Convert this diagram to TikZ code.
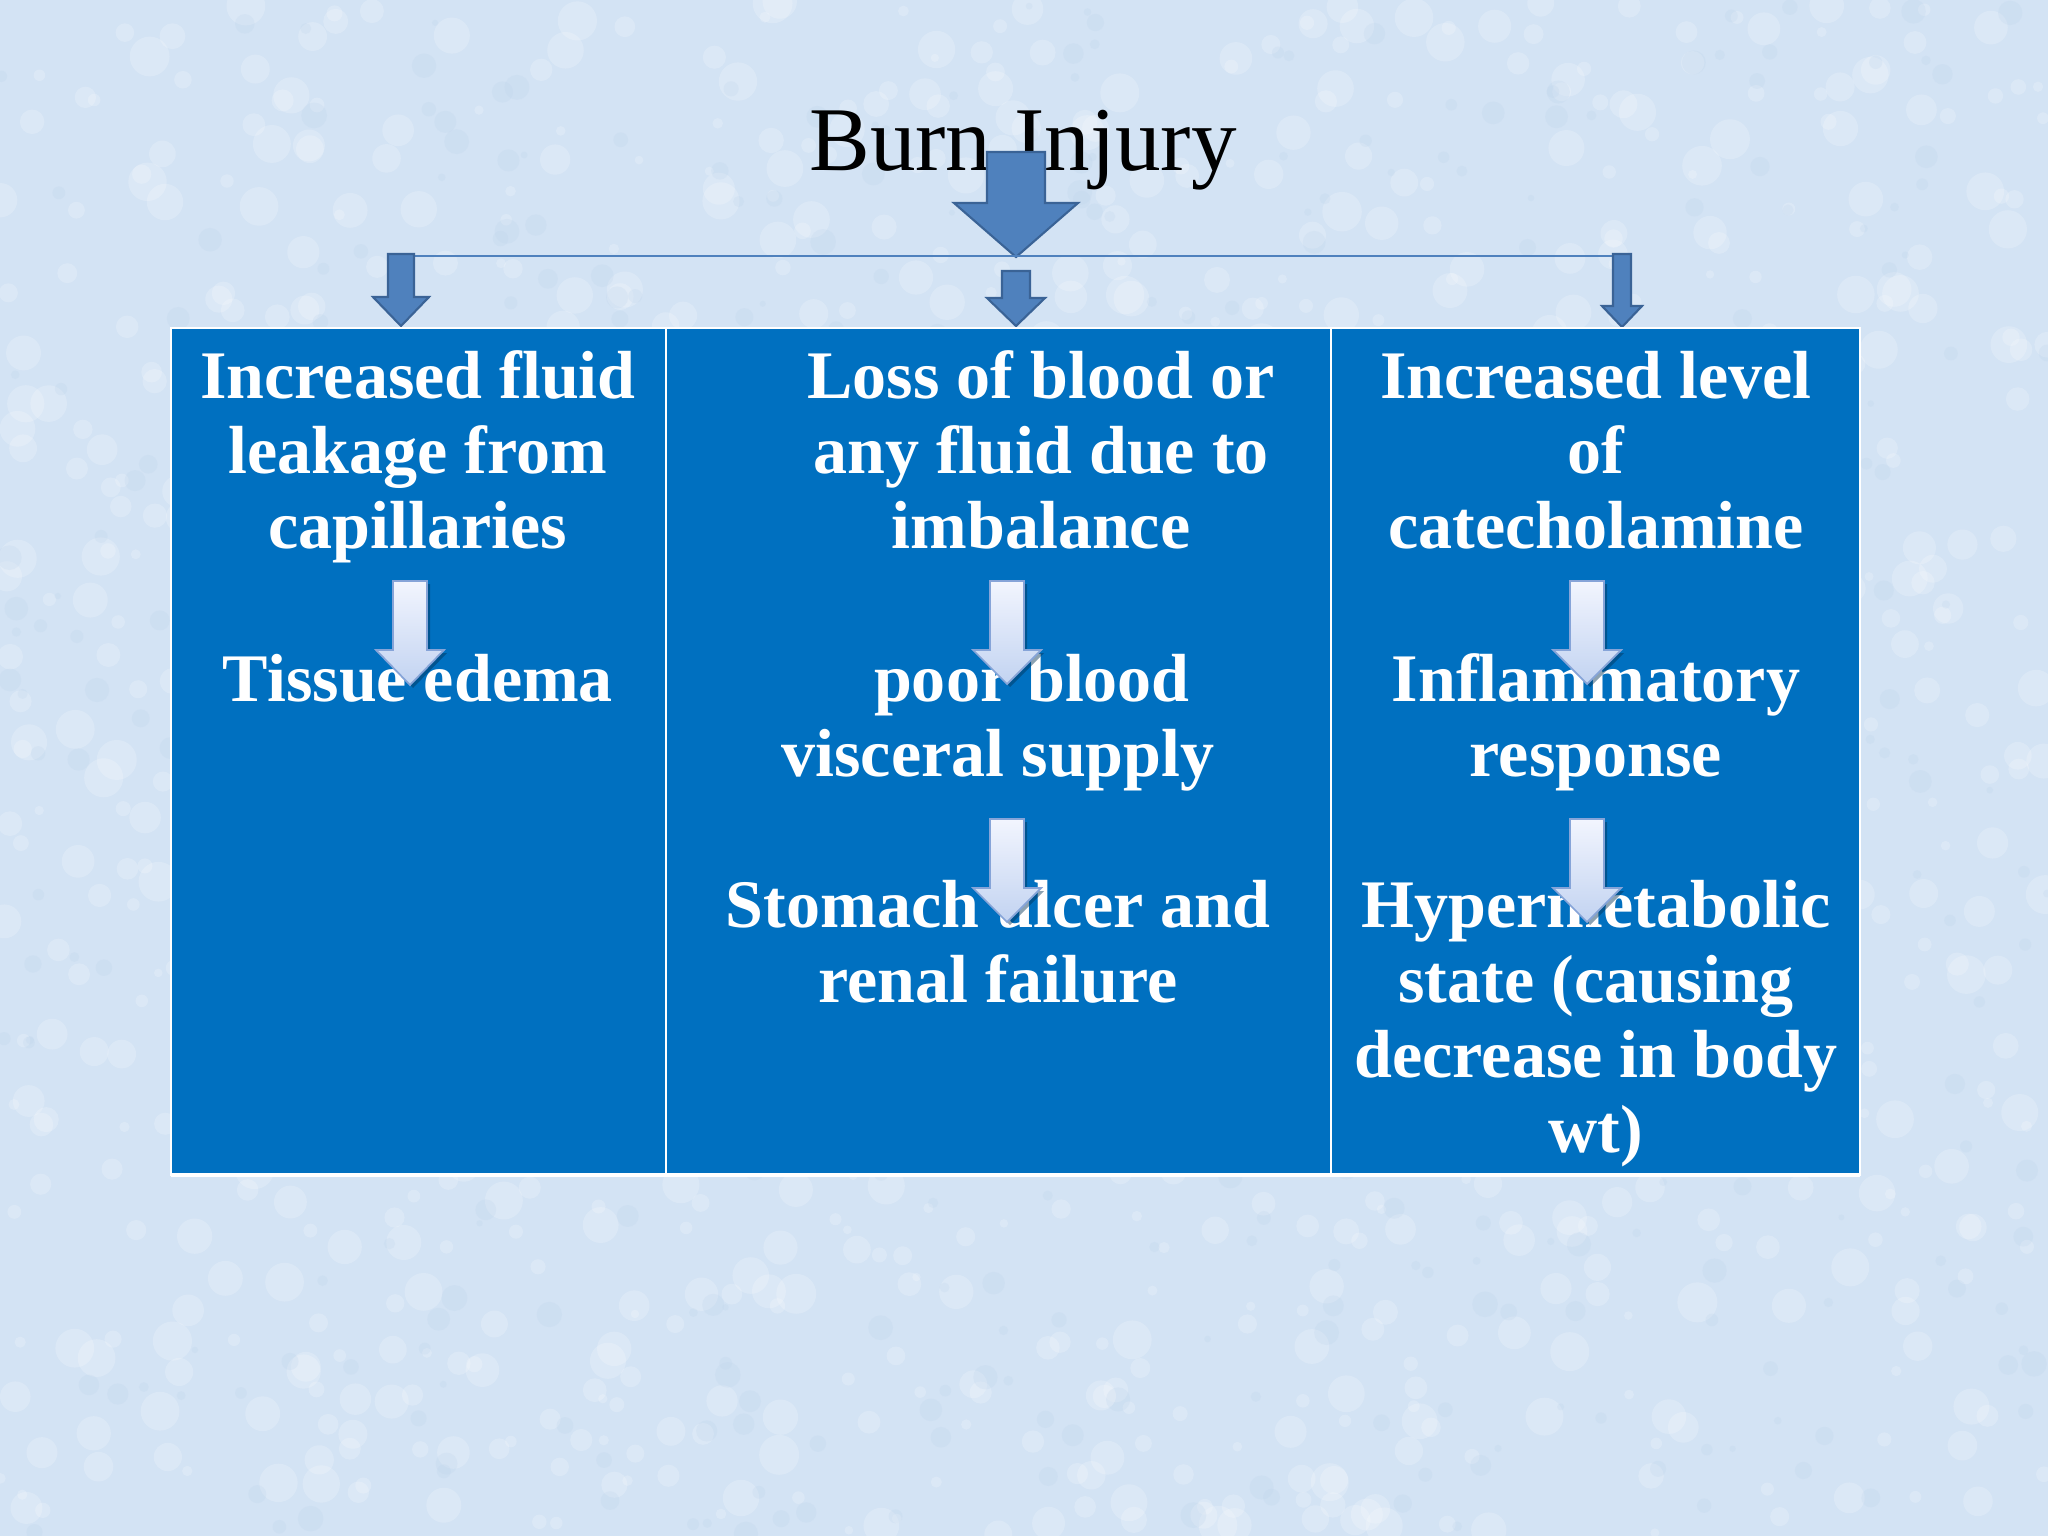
\documentclass[tikz,border=0pt]{standalone}
\usepackage{fontspec}
\setmainfont{Liberation Serif}
\definecolor{bgblue}{HTML}{D3E3F4}
\definecolor{bgdark}{HTML}{BCD2EA}
\definecolor{tblue}{HTML}{0070C0}
\definecolor{abfill}{HTML}{4F81BD}
\definecolor{abdraw}{HTML}{3A6396}
\definecolor{wtop}{HTML}{F2F5FE}
\definecolor{wbot}{HTML}{C2D3F1}
\definecolor{wdraw}{HTML}{86A4D8}
\newcommand\blockarrow[7]{%
  \path[#7] (#1-#5,#2) -- (#1+#5,#2) -- (#1+#5,#3) -- (#1+#6,#3) -- (#1,#4)
    -- (#1-#6,#3) -- (#1-#5,#3) -- cycle;}
\tikzset{
  boxtext/.style={text=white, font=\fontsize{19.35}{21.3}\selectfont\bfseries,
    align=center, inner sep=0pt, anchor=north},
  bluearrow/.style={fill=abfill, draw=abdraw, line width=0.6pt, line join=miter},
  whitearrow/.style={top color=wtop, bottom color=wbot, draw=wdraw, line width=0.5pt},
  arrowshadow/.style={fill=black!55!tblue, opacity=0.45, shift={(3,3)}},
}
\begin{document}
\begin{tikzpicture}[x=0.01cm, y=-0.01cm]
  \useasboundingbox (0,0) rectangle (2048,1536);
  % background with soft, fine texture
  \fill[bgblue] (0,0) rectangle (2048,1536);
  \pgfmathsetseed{7}
  \foreach \i in {1,...,1100}{
    \pgfmathsetmacro\xx{rnd*2048}
    \pgfmathsetmacro\yy{rnd*1536}
    \pgfmathsetmacro\rr{4+rnd*16}
    \fill[white, opacity=0.2] (\xx,\yy) circle[radius=\rr];
  }
  \foreach \i in {1,...,500}{
    \pgfmathsetmacro\xx{rnd*2048}
    \pgfmathsetmacro\yy{rnd*1536}
    \pgfmathsetmacro\rr{3+rnd*10}
    \fill[bgdark, opacity=0.22] (\xx,\yy) circle[radius=\rr];
  }

  % title
  \node[font=\fontsize{25.9}{31}\selectfont, text=black, inner sep=0pt, anchor=base]
    (title) at (1023,170) {Burn Injury};

  % big arrow from title to the branch line
  \blockarrow{1016}{152}{203}{257}{29}{62}{bluearrow}

  % branch line
  \coordinate (hl) at (401,256);
  \coordinate (hr) at (1622,256);
  \draw[abfill, line width=0.7pt] (hl) -- (hr);

  % three small arrows into the table
  \blockarrow{401}{254}{297}{326}{13}{28}{bluearrow}
  \blockarrow{1016}{271}{298}{326}{14}{29}{bluearrow}
  \blockarrow{1622}{254}{306}{327}{9}{20}{bluearrow}

  % table
  \fill[tblue] (171,328) rectangle (1860,1175);
  \draw[white, line width=0.6pt] (171,328) rectangle (1860,1175);
  \draw[white, line width=1.2pt] (171,1175) -- (1860,1175);
  \draw[white, line width=0.6pt] (666,328) -- (666,1175);
  \draw[white, line width=0.6pt] (1331,328) -- (1331,1175);

  % column 1
  \node[boxtext] (c1a) at (418,345.6) {\strut Increased fluid\\leakage from\\capillaries};
  \node[boxtext] (c1b) at (418,648.6) {\strut Tissue edema};
  % column 2
  \node[boxtext] (c2a) at (1041,345.6) {\strut Loss of blood or\\any fluid due to\\imbalance};
  \node[boxtext] (c2b) at (998,648.6) {\strut\hspace*{6.8mm}poor blood\\visceral supply};
  \node[boxtext] (c2c) at (998,874.6) {\strut Stomach ulcer and\\renal failure};
  % column 3
  \node[boxtext] (c3a) at (1596,345.6) {\strut Increased level\\of\\catecholamine};
  \node[boxtext] (c3b) at (1596,648.6) {\strut Inflammatory\\response};
  \node[boxtext] (c3c) at (1596,874.6) {\strut Hypermetabolic\\state (causing\\decrease in body\\wt)};

  % white arrows inside the table (drawn over the text)
  \foreach \cx/\yt/\yb/\yp in {410/581/650/685, 1007/581/650/684, 1007/819/888/922,
                               1587/581/650/684, 1587/819/888/922}{
    \blockarrow{\cx}{\yt}{\yb}{\yp}{17}{34}{arrowshadow}
    \blockarrow{\cx}{\yt}{\yb}{\yp}{17}{34}{whitearrow}
  }
\end{tikzpicture}
\end{document}
